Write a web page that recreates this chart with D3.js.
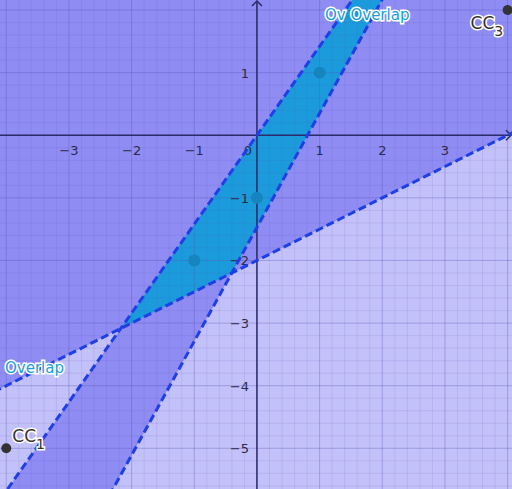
<!DOCTYPE html>
<html><head><meta charset="utf-8">
<script src="https://cdn.jsdelivr.net/npm/d3@7"></script>
<style>body{margin:0;background:#fff}text{font-family:"DejaVu Sans",sans-serif}</style>
</head><body><main></main>
<script>
var width = 512, height = 489;

// lines y = m*x + b
var lineShallow = {m: 0.5, b: -2};
var lineA = {m: 1.42, b: 0};
var lineB = {m: 1.82, b: -1.47};
var overlapPoints = [[-1, -2], [0, -1], [1, 1]];
var namedPoints = [{name: "CC", sub: "1", x: -4, y: -5}, {name: "CC", sub: "3", x: 4, y: 2}];
var xTicks = [-3, -2, -1, 1, 2, 3];
var yTicks = [-5, -4, -3, -2, -1, 1];

var x = d3.scaleLinear().domain([-4.1, 4.07]).range([0, width]);
var y = d3.scaleLinear().domain([-5.65, 2.16]).range([height, 0]);

var svg = d3.select("main").append("svg").attr("width", width).attr("height", height);

// clip polygon by half-plane sign*(y - (m x + b)) > 0
function clip(poly, ln, sign) {
  var out = [];
  function f(p) { return sign * (p[1] - (ln.m * p[0] + ln.b)); }
  for (var i = 0; i < poly.length; i++) {
    var a = poly[i], c = poly[(i + 1) % poly.length];
    var fa = f(a), fc = f(c);
    if (fa >= 0) out.push(a);
    if ((fa >= 0) != (fc >= 0)) {
      var t = fa / (fa - fc);
      out.push([a[0] + t * (c[0] - a[0]), a[1] + t * (c[1] - a[1])]);
    }
  }
  return out;
}
var view = [[-4.2, -5.8], [4.2, -5.8], [4.2, 2.3], [-4.2, 2.3]];
var above = clip(view, lineShallow, 1);
var strip = clip(clip(view, lineA, -1), lineB, 1);
var both = clip(clip(above, lineA, -1), lineB, 1);

var path = d3.line().x(function(d) { return x(d[0]); }).y(function(d) { return y(d[1]); });

svg.append("rect").attr("width", width).attr("height", height).attr("fill", "#c3c1fa");
svg.append("path").attr("d", path(above) + "Z").attr("fill", "#8f8cf3");
svg.append("path").attr("d", path(strip) + "Z").attr("fill", "#8f8cf3");
svg.append("path").attr("d", path(both) + "Z").attr("fill", "#1b9bdc");

// grid
var gx = svg.append("g");
d3.range(-21, 21).map(function(d) { return d / 5; }).forEach(function(v) {
  var major = Math.abs(v - Math.round(v)) < 1e-6;
  gx.append("line").attr("x1", x(v)).attr("x2", x(v)).attr("y1", 0).attr("y2", height)
    .attr("stroke", "#5a55b0").attr("stroke-opacity", major ? 0.35 : 0.12);
});
d3.range(-30, 12).map(function(d) { return d / 5; }).forEach(function(v) {
  var major = Math.abs(v - Math.round(v)) < 1e-6;
  gx.append("line").attr("y1", y(v)).attr("y2", y(v)).attr("x1", 0).attr("x2", width)
    .attr("stroke", "#5a55b0").attr("stroke-opacity", major ? 0.35 : 0.12);
});

// axes
var ax = svg.append("g").attr("stroke", "#2b2a6a").attr("stroke-width", 1.5).attr("fill", "none");
ax.append("line").attr("x1", 0).attr("x2", width - 1).attr("y1", y(0)).attr("y2", y(0));
ax.append("line").attr("x1", x(0)).attr("x2", x(0)).attr("y1", height).attr("y2", 1);
ax.append("path").attr("d", "M" + (width - 6) + "," + (y(0) - 5) + "L" + (width - 1) + "," + y(0) + "L" + (width - 6) + "," + (y(0) + 5));
ax.append("path").attr("d", "M" + (x(0) - 5) + ",6L" + x(0) + ",1L" + (x(0) + 5) + ",6");

var lab = svg.append("g").attr("fill", "#2b2a4a").attr("font-size", 13);
xTicks.forEach(function(v) {
  lab.append("text").attr("x", x(v)).attr("y", y(0) + 20).attr("text-anchor", "middle").text(v < 0 ? "\u2212" + (-v) : v);
});
lab.append("text").attr("x", x(0) - 5).attr("y", y(0) + 20).attr("text-anchor", "end").text("0");
yTicks.forEach(function(v) {
  lab.append("text").attr("x", x(0) - 8).attr("y", y(v) + 5).attr("text-anchor", "end").text(v < 0 ? "\u2212" + (-v) : v);
});

// dashed lines
[lineShallow, lineA, lineB].forEach(function(ln) {
  svg.append("line").attr("x1", x(-4.2)).attr("y1", y(ln.m * -4.2 + ln.b))
    .attr("x2", x(4.2)).attr("y2", y(ln.m * 4.2 + ln.b))
    .attr("stroke", "#1f3fe6").attr("stroke-width", 3).attr("stroke-dasharray", "8,4");
});

// points
svg.selectAll(".op").data(overlapPoints).enter().append("circle")
  .attr("cx", function(d) { return x(d[0]); }).attr("cy", function(d) { return y(d[1]); })
  .attr("r", 6).attr("fill", "#1684bd");
svg.selectAll(".np").data(namedPoints).enter().append("circle")
  .attr("cx", function(d) { return x(d.x); }).attr("cy", function(d) { return y(d.y); })
  .attr("r", 5).attr("fill", "#333");

function halo(sel) { return sel.attr("stroke", "#fff").attr("stroke-width", 3).attr("paint-order", "stroke"); }
namedPoints.forEach(function(d) {
  var t = halo(svg.append("text").attr("x", d.x < 0 ? x(d.x) + 6 : x(d.x) - 37).attr("y", d.x < 0 ? y(d.y) - 6 : y(d.y) + 19)
    .attr("font-size", 17).attr("fill", "#333"));
  t.append("tspan").text(d.name);
  t.append("tspan").attr("dy", 7).attr("font-size", 14).text(d.sub);
});
halo(svg.append("text").attr("x", 325).attr("y", 20).attr("font-size", 15).attr("fill", "#19a0db").text("Ov Overlap"));
halo(svg.append("text").attr("x", 5).attr("y", 373).attr("font-size", 15).attr("fill", "#19a0db").text("Overlap"));
</script>
</body></html>
